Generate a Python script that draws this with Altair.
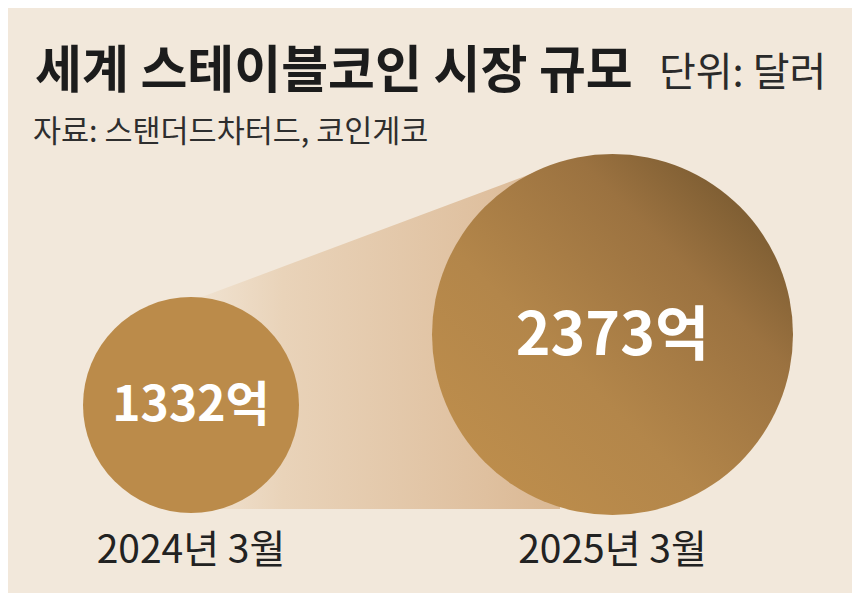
import altair as alt
import pandas as pd

# ---- data ----
periods = ["2024년 3월", "2025년 3월"]
values = [1332, 2373]
value_labels = ["1332억", "2373억"]

title_text = "세계 스테이블코인 시장 규모"
unit_text = "단위: 달러"
source_text = "자료: 스탠더드차터드, 코인게코"

df = pd.DataFrame({"period": periods, "value": values, "label": value_labels})

BG = "#f2e8db"
KR = "Noto Sans CJK KR"

vdom = [values[0], values[1]]


def x_enc(rng):
    return alt.X("period:N", scale=alt.Scale(domain=periods, range=rng, padding=0), axis=None)


CIRCLE_X = [183, 604.5]

y_center = alt.Y("value:Q", scale=alt.Scale(domain=vdom, range=[397, 326.5], zero=False), axis=None)
size_enc = alt.Size("value:Q", scale=alt.Scale(domain=vdom, range=[46656, 130321], zero=False), legend=None)

# cone: top edge from the values, bottom edge placed at pixel 501 on the same scale
CONE_TOP = [293, 155]
CONE_BOTTOM_PX = 501
k = (CONE_TOP[1] - CONE_TOP[0]) / (vdom[1] - vdom[0])
base_datum = vdom[0] + (CONE_BOTTOM_PX - CONE_TOP[0]) / k

cone = alt.Chart(df).mark_area(
    color=alt.LinearGradient(
        gradient="linear", x1=0, y1=0, x2=1, y2=0,
        stops=[
            alt.GradientStop(color="#f1e4d3", offset=0),
            alt.GradientStop(color="#e9d3b9", offset=0.25),
            alt.GradientStop(color="#dfc09f", offset=0.8),
            alt.GradientStop(color="#dab893", offset=1),
        ],
    )
).encode(
    x=x_enc([183, 552]),
    y=alt.Y("value:Q", scale=alt.Scale(domain=vdom, range=CONE_TOP, zero=False), axis=None),
    y2=alt.datum(base_datum),
)

small = alt.Chart(df).transform_filter(alt.datum.period == periods[0]).mark_circle(
    opacity=1, color="#bb8b4a"
).encode(x=x_enc(CIRCLE_X), y=y_center, size=size_enc)

big = alt.Chart(df).transform_filter(alt.datum.period == periods[1]).mark_circle(
    opacity=1,
    color=alt.LinearGradient(
        gradient="linear", x1=0.1, y1=0.9, x2=0.95, y2=0.05,
        stops=[
            alt.GradientStop(color="#be8e4c", offset=0),
            alt.GradientStop(color="#b3864a", offset=0.35),
            alt.GradientStop(color="#9b7240", offset=0.7),
            alt.GradientStop(color="#6f532c", offset=1),
        ],
    ),
).encode(x=x_enc(CIRCLE_X), y=y_center, size=size_enc)

value_text = alt.Chart(df).mark_text(
    font=KR, fontWeight="bold", color="white", align="center", baseline="alphabetic"
).encode(
    x=x_enc(CIRCLE_X),
    y=alt.Y("value:Q", scale=alt.Scale(domain=vdom, range=[413, 347], zero=False), axis=None),
    size=alt.Size("value:Q", scale=alt.Scale(domain=vdom, range=[48, 59], zero=False), legend=None),
    text="label:N",
)

period_text = alt.Chart(df).mark_text(
    font=KR, fontSize=39, color="#222222", align="center", baseline="alphabetic"
).encode(x=x_enc(CIRCLE_X), y=alt.value(555), text="period:N")

title = alt.Chart(pd.DataFrame({"t": [title_text]})).mark_text(
    font=KR, fontSize=51, fontWeight="bold", color="#1c1c1c", align="left", baseline="alphabetic"
).encode(x=alt.value(27), y=alt.value(80), text="t:N")

unit = alt.Chart(pd.DataFrame({"t": [unit_text]})).mark_text(
    font=KR, fontSize=40, color="#2a2a2a", align="left", baseline="alphabetic"
).encode(x=alt.value(651), y=alt.value(78), text="t:N")

source = alt.Chart(pd.DataFrame({"t": [source_text]})).mark_text(
    font=KR, fontSize=30.5, color="#2e2e2e", align="left", baseline="alphabetic"
).encode(x=alt.value(25), y=alt.value(134), text="t:N")

chart = alt.layer(
    cone, small, big, value_text, period_text, title, unit, source
).resolve_scale(
    x="independent", y="independent", size="independent"
).properties(
    width=844, height=585, background=BG,
    autosize=alt.AutoSizeParams(type="none"), padding=0,
).configure_view(stroke=None)

chart.save("out.html", embed_options={"renderer": "svg", "actions": False})
